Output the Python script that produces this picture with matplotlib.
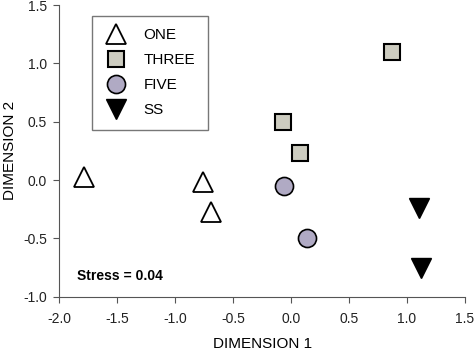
import matplotlib.pyplot as plt

plt.rcParams['font.family'] = ['Liberation Sans', 'DejaVu Sans']

# MDS coordinates
one_x = [-1.79, -0.76, -0.69]
one_y = [0.03, -0.02, -0.27]
three_x = [0.87, -0.07, 0.075]
three_y = [1.10, 0.50, 0.23]
five_x = [-0.06, 0.14]
five_y = [-0.05, -0.50]
ss_x = [1.10, 1.12]
ss_y = [-0.24, -0.75]

fig = plt.figure(figsize=(4.74, 3.61), dpi=100)
ax = fig.add_axes([0.125, 0.178, 0.856, 0.808])

ax.plot(one_x, one_y, ls="none", marker="^", ms=14, mfc="white", mec="black", mew=1.3, label="ONE")
ax.plot(three_x, three_y, ls="none", marker="s", ms=12, mfc="#cdccc0", mec="black", mew=1.5, label="THREE")
ax.plot(five_x, five_y, ls="none", marker="o", ms=13, mfc="#b0aac4", mec="black", mew=1.2, label="FIVE")
ax.plot(ss_x, ss_y, ls="none", marker="v", ms=14, mfc="black", mec="black", label="SS")

ax.set_xlim(-2.0, 1.5)
ax.set_ylim(-1.0, 1.5)
ax.set_xticks([-2.0, -1.5, -1.0, -0.5, 0.0, 0.5, 1.0, 1.5])
ax.set_yticks([-1.0, -0.5, 0.0, 0.5, 1.0, 1.5])
ax.xaxis.set_major_formatter(plt.FormatStrFormatter("%.1f"))
ax.yaxis.set_major_formatter(plt.FormatStrFormatter("%.1f"))

for s in ["top", "right"]:
    ax.spines[s].set_visible(False)
for s in ["left", "bottom"]:
    ax.spines[s].set_color("#555555")
ax.tick_params(direction="out", length=4, color="#555555", labelsize=10, labelcolor="#222222")
ax.tick_params(axis="x", pad=7)
ax.tick_params(axis="y", pad=5)

ax.set_xlabel("DIMENSION 1", fontsize=11, labelpad=8)
ax.set_ylabel("DIMENSION 2", fontsize=11, labelpad=4)

ax.text(-1.85, -0.82, "Stress = 0.04", fontsize=10, fontweight="bold", va="center")

leg = ax.legend(loc="upper left", bbox_to_anchor=(0.08, 0.962), fontsize=11, frameon=True,
                fancybox=False, edgecolor="#555555", borderpad=0.8, labelspacing=0.72,
                handletextpad=1.0, handlelength=1.6, borderaxespad=0)
leg.get_frame().set_linewidth(1.0)

fig.savefig("out.png", dpi=100)
